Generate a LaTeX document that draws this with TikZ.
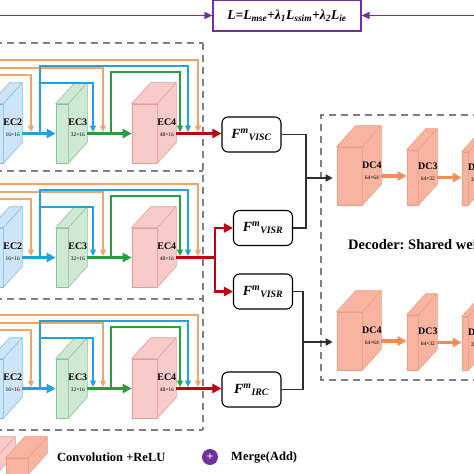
\documentclass[tikz,border=0pt]{standalone}
\usepackage{fontspec}
\setmainfont{Liberation Serif}
\usetikzlibrary{calc,arrows.meta}

\definecolor{ebluef}{HTML}{CDE5F7}
\definecolor{eblued}{HTML}{7DBCE6}
\definecolor{egreenf}{HTML}{CFE8D4}
\definecolor{egreend}{HTML}{88C497}
\definecolor{epinkf}{HTML}{F8CBCB}
\definecolor{epinkd}{HTML}{E59B9B}
\definecolor{dsalmf}{HTML}{F7B5A1}
\definecolor{dsalmd}{HTML}{EF9C82}
\definecolor{ablue}{HTML}{1FA3DE}
\definecolor{agreen}{HTML}{22A03B}
\definecolor{aorange}{HTML}{F2A469}
\definecolor{ared}{HTML}{C00010}
\definecolor{adark}{HTML}{2E2E2E}
\definecolor{apurple}{HTML}{7030A0}
\definecolor{adc}{HTML}{F58C58}
\definecolor{framegrey}{HTML}{7F7F7F}

\tikzset{
  slab/.style={rectangle, inner sep=0pt, line width=0.6pt},
  slabtitle/.style={inner sep=0pt, font=\fontsize{10}{10}\selectfont\bfseries},
  slabsize/.style={inner sep=0pt, font=\fontsize{5.5}{5.5}\selectfont},
  mainflow/.style={line width=2.8pt, draw=#1, -{Triangle[length=9pt, width=9pt]}},
  skipflow/.style={line width=1.6pt, draw=#1, -{Triangle[length=6.5pt, width=6pt]}},
  joinline/.style={line width=1.6pt, draw=adark},
  frame/.style={line width=1.2pt, draw=framegrey, dash pattern=on 7pt off 5pt},
  fbox/.style={draw, line width=1.1pt, rounded corners=6pt, minimum width=59pt,
    minimum height=35pt, inner sep=0pt, font=\bfseries\itshape},
  lossbox/.style={draw=apurple, line width=1.2pt, minimum width=148pt, minimum height=31pt,
    inner sep=0pt, font=\fontsize{13.5}{13.5}\selectfont\bfseries\itshape},
  lossline/.style={line width=1.5pt, draw=apurple, -{Triangle[length=8pt, width=7pt]}},
  legendtext/.style={inner sep=0pt, font=\fontsize{12.5}{12.5}\selectfont\bfseries},
}

% cuboid: name, front centre, width, height, colour
\newcommand{\slab}[5]{%
  \node[slab, minimum width=#3pt, minimum height=#4pt, fill=#5f, draw=#5d] (#1) at (#2) {};
  \filldraw[fill=#5f, draw=#5d, line width=0.6pt, line join=round]
    (#1.north west) -- ++(19,-21) -- ([shift={(19,-21)}]#1.north east)
    -- ([shift={(19,-21)}]#1.south east) -- (#1.south east) -- (#1.north east) -- cycle;
  \draw[#5d, line width=0.6pt] (#1.north east) -- ++(19,-21);
  \coordinate (#1-o) at ([xshift=19pt]#1.east);
}
% labels on the side face
\newcommand{\slabtext}[3]{%
  \node[slabtitle] (#1-t) at ([shift={(9.5,-11)}]#1.east) {#2};
  \node[slabsize] (#1-s) at ([shift={(9.5,1.5)}]#1.east) {#3};
}
\newcommand{\fm}[1]{{\fontsize{14}{14}\selectfont F\textsuperscript{m}\textsubscript{#1}}}

\begin{document}
\begin{tikzpicture}[x=1pt, y=-1pt]
  \useasboundingbox (0,0) rectangle (474,474);
  \clip (0,0) rectangle (474,474);
  \fill[white] (0,0) rectangle (474,474);

  % loss
  \node[lossbox] (loss) at (287,15.5)
    {L=L\textsubscript{mse}+λ\textsubscript{1}L\textsubscript{ssim}+λ\textsubscript{2}L\textsubscript{ie}};
  \coordinate (lossl) at (-5,15.5);
  \coordinate (lossr) at (480,15.5);
  \draw[lossline] (lossl) -- (loss.west);
  \draw[lossline] (lossr) -- (loss.east);

  % encoder frames
  \foreach \y in {43,171,299,430}
  \draw[frame] (-5,\y) -- (203,\y);
  \draw[frame] (203,43) -- (203,430);

  % encoder panels
  \foreach \p/\dy in {1/0,2/124,3/255} {
    \slab{ec2-\p}{-3,133.5+\dy}{12}{59}{eblue}
    \slab{ec3-\p}{62,133.5+\dy}{12}{59}{egreen}
    \slab{ec4-\p}{144.5,133.5+\dy}{25}{59}{epink}
    \slabtext{ec2-\p}{EC2}{16×16}
    \slabtext{ec3-\p}{EC3}{32×16}
    \slabtext{ec4-\p}{EC4}{48×16}

    \coordinate (bo-\p) at (40,133.5+\dy);
    \coordinate (go-\p) at (111,133.5+\dy);
    \coordinate (tb-\p) at (31,132+\dy);
    \coordinate (tg1-\p) at (93,132+\dy);
    \coordinate (tg2-\p) at (103,132+\dy);
    \coordinate (tr1-\p) at (180,132+\dy);
    \coordinate (tr2-\p) at (188,132+\dy);
    \coordinate (tr3-\p) at (198,132+\dy);
    \coordinate (o1-\p) at (-5,60+\dy);
    \coordinate (o2-\p) at (-5,68+\dy);
    \coordinate (o3-\p) at (-5,75+\dy);

    \draw[mainflow=ablue] (ec2-\p-o) -- (ec3-\p.west);
    \draw[mainflow=agreen] (ec3-\p-o) -- (ec4-\p.west);

    \draw[skipflow=aorange] (o1-\p) -| (tr3-\p);
    \draw[skipflow=aorange] (o2-\p) -| (tg2-\p);
    \draw[skipflow=aorange] (o3-\p) -| (tb-\p);
    \draw[skipflow=ablue] (bo-\p) -- ++(0,-67.5) -| (tr2-\p);
    \draw[skipflow=ablue] (bo-\p) -- ++(0,-50.5) -| (tg1-\p);
    \draw[skipflow=agreen] (go-\p) -- ++(0,-61.5) -| (tr1-\p);
  }

  % fusion blocks
  \node[fbox] (fvisc) at (251.5,134.5) {\fm{VISC}};
  \node[fbox] (fvisr1) at (263,228) {\fm{VISR}};
  \node[fbox] (fvisr2) at (263,291.5) {\fm{VISR}};
  \node[fbox] (firc) at (251.5,389.5) {\fm{IRC}};

  \draw[mainflow=ared] (ec4-1-o) -- (ec4-1-o -| fvisc.west);
  \coordinate (rs) at (215,257.5);
  \draw[line width=2.8pt, ared] (ec4-2-o) -- (rs);
  \draw[mainflow=ared] (rs) |- (fvisr1.west);
  \draw[mainflow=ared] (rs) |- (fvisr2.west);
  \draw[mainflow=ared] (ec4-3-o) -- (ec4-3-o -| firc.west);

  % decoder
  \draw[frame] (480,115) -- (321,115) -- (321,380) -- (480,380);
  \foreach \q/\dy in {1/0,2/165} {
    \slab{dc4-\q}{349.5,176+\dy}{25}{58}{dsalm}
    \slab{dc3-\q}{412.5,177.5+\dy}{11}{55}{dsalm}
    \slab{dc2-\q}{465,178.5+\dy}{6}{53}{dsalm}
    \slabtext{dc4-\q}{DC4}{64×64}
    \slabtext{dc3-\q}{DC3}{64×32}
    \slabtext{dc2-\q}{DC2}{32×32}
    \draw[mainflow=adc, line width=3.6pt] (dc4-\q-o) -- (dc4-\q-o -| dc3-\q.west);
    \draw[mainflow=adc, line width=3.6pt] (dc3-\q-o) -- (dc3-\q-o -| dc2-\q.west);
  }
  \node[legendtext, anchor=west, font=\fontsize{14.5}{14.5}\selectfont\bfseries\frenchspacing]
    (dectitle) at (348,246) {Decoder: Shared weights};

  \coordinate (j1) at (306,178);
  \coordinate (j2) at (303,342);
  \draw[joinline] (fvisc.east) -| (j1);
  \draw[joinline] (fvisr1.east) -| (j1);
  \draw[joinline, -{Triangle[length=7pt, width=7pt]}, shorten >=4pt] (j1) -- (j1 -| dc4-1.west);
  \draw[joinline] (fvisr2.east) -| (j2);
  \draw[joinline] (firc.east) -| (j2);
  \draw[joinline, -{Triangle[length=7pt, width=7pt]}, shorten >=4pt] (j2) -- (j2 -| dc4-2.west);

  % legend
  \slab{lgpink}{-12,466}{16}{16}{epink}
  \slab{lgsalm}{17,466}{22}{16}{dsalm}
  \node[legendtext, anchor=west] (lgconv) at (57,457) {Convolution +ReLU};
  \node[circle, fill=apurple, minimum size=16pt, inner sep=0pt, text=white,
    font=\fontsize{12}{12}\selectfont\bfseries] (lgmerge) at (210,457) {+};
  \node[legendtext, anchor=west] (lgmergetext) at (231,458) {Merge(Add)};
\end{tikzpicture}
\end{document}
